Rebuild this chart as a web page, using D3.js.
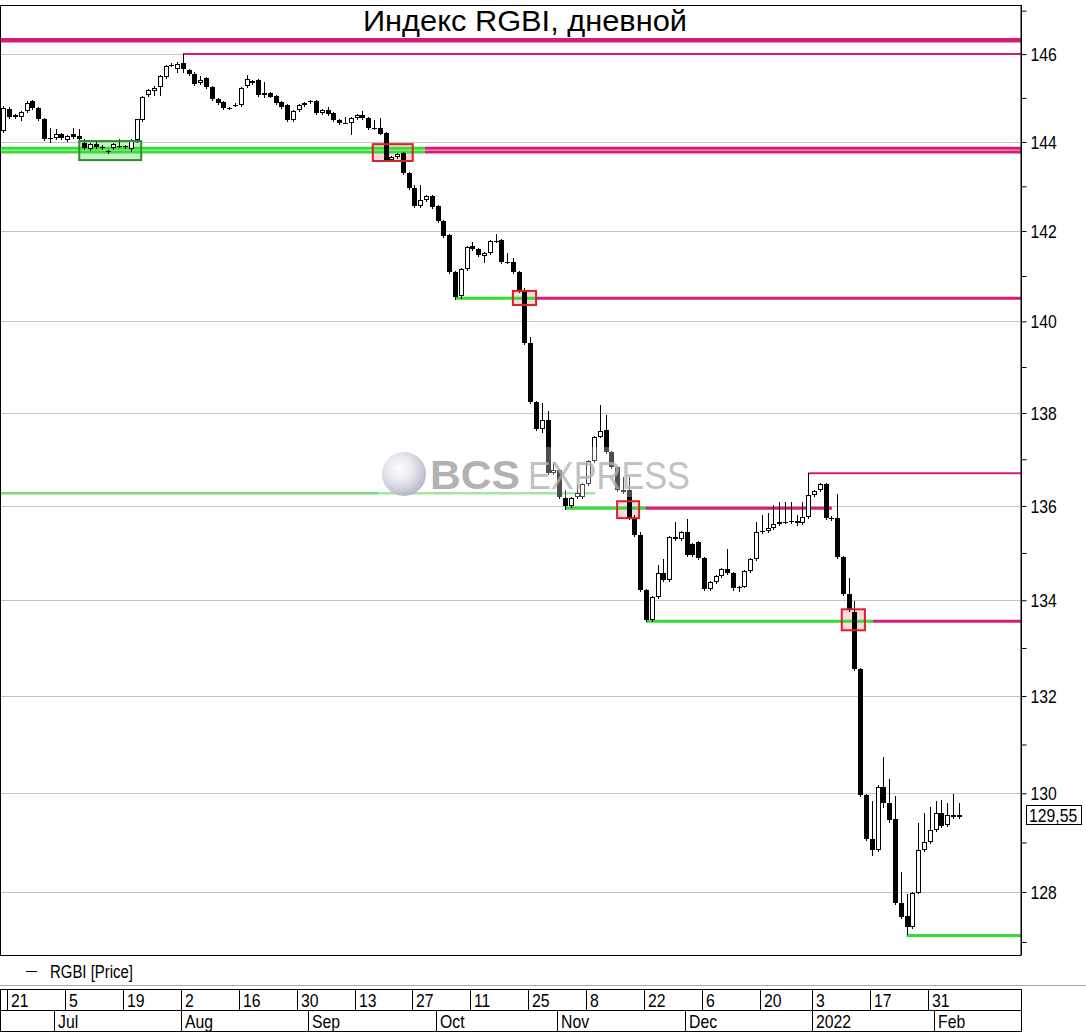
<!DOCTYPE html>
<html><head><meta charset="utf-8">
<script src="https://cdn.jsdelivr.net/npm/d3@7"></script>
<style>
body{margin:0;background:#fff}
svg{display:block}
text{font-family:"Liberation Sans",Arial,sans-serif}
</style></head>
<body><svg id="c" width="1086" height="1034"></svg>
<script>
// ---- data: [date, open, high, low, close] ----
const candles = [
["2021-06-18",144.25,144.82,144.22,144.77],["2021-06-21",144.75,144.80,144.54,144.56],["2021-06-22",144.61,144.63,144.54,144.56],
["2021-06-23",144.56,144.70,144.50,144.68],["2021-06-24",144.70,144.93,144.68,144.88],["2021-06-25",144.93,144.95,144.75,144.77],
["2021-06-28",144.77,144.79,144.50,144.52],["2021-06-29",144.52,144.54,144.04,144.06],["2021-06-30",144.09,144.31,144.00,144.06],
["2021-07-01",144.09,144.29,144.07,144.18],["2021-07-02",144.18,144.20,144.07,144.09],["2021-07-05",144.04,144.15,144.02,144.13],
["2021-07-06",144.18,144.31,144.09,144.11],["2021-07-07",144.13,144.29,144.04,144.06],["2021-07-08",143.97,144.06,143.84,143.86],
["2021-07-09",143.84,143.97,143.82,143.95],["2021-07-12",143.95,144.04,143.86,143.88],["2021-07-13",143.88,143.92,143.84,143.87],
["2021-07-14",143.79,143.81,143.76,143.78],["2021-07-15",143.86,143.97,143.84,143.95],["2021-07-16",143.90,144.06,143.88,143.91],
["2021-07-19",143.91,143.93,143.86,143.88],["2021-07-20",143.83,144.06,143.80,144.04],["2021-07-21",144.04,144.53,144.00,144.51],
["2021-07-22",144.50,145.05,144.48,145.03],["2021-07-23",145.07,145.20,145.05,145.18],["2021-07-26",145.16,145.26,145.07,145.23],
["2021-07-27",145.24,145.52,145.07,145.50],["2021-07-28",145.48,145.75,145.46,145.73],["2021-07-29",145.75,145.80,145.72,145.76],
["2021-07-30",145.67,145.82,145.60,145.77],["2021-08-02",145.79,146.00,145.60,145.65],["2021-08-03",145.64,145.66,145.52,145.54],
["2021-08-04",145.54,145.59,145.29,145.31],["2021-08-05",145.33,145.50,145.31,145.41],["2021-08-06",145.46,145.48,145.22,145.24],
["2021-08-09",145.24,145.26,144.95,144.97],["2021-08-10",144.97,144.99,144.86,144.88],["2021-08-11",144.90,144.92,144.74,144.76],
["2021-08-12",144.78,144.80,144.74,144.77],["2021-08-13",144.83,144.88,144.81,144.84],["2021-08-16",144.84,145.24,144.82,145.22],
["2021-08-17",145.26,145.52,145.24,145.42],["2021-08-18",145.33,145.40,145.31,145.38],["2021-08-19",145.41,145.43,145.05,145.07],
["2021-08-20",145.11,145.37,145.03,145.07],["2021-08-23",145.11,145.13,145.01,145.03],["2021-08-24",145.04,145.06,144.86,144.88],
["2021-08-25",144.91,144.93,144.78,144.80],["2021-08-26",144.84,144.86,144.48,144.50],["2021-08-27",144.50,144.72,144.48,144.70],
["2021-08-30",144.72,144.86,144.70,144.84],["2021-08-31",144.84,144.91,144.82,144.89],["2021-09-01",144.91,144.95,144.89,144.92],
["2021-09-02",144.93,144.95,144.63,144.65],["2021-09-03",144.65,144.74,144.63,144.72],["2021-09-06",144.72,144.79,144.61,144.63],
["2021-09-07",144.66,144.68,144.48,144.50],["2021-09-08",144.50,144.52,144.40,144.42],["2021-09-09",144.44,144.57,144.42,144.43],
["2021-09-10",144.42,144.56,144.19,144.54],["2021-09-13",144.54,144.63,144.52,144.61],["2021-09-14",144.61,144.69,144.52,144.54],
["2021-09-15",144.54,144.56,144.29,144.31],["2021-09-16",144.32,144.50,144.29,144.31],["2021-09-17",144.31,144.54,144.17,144.19],
["2021-09-20",144.21,144.23,143.57,143.59],["2021-09-21",143.59,143.68,143.57,143.66],["2021-09-22",143.66,143.75,143.64,143.73],
["2021-09-23",143.75,143.77,143.28,143.30],["2021-09-24",143.30,143.32,142.94,142.96],["2021-09-27",142.96,143.03,142.54,142.56],
["2021-09-28",142.56,143.03,142.54,142.69],["2021-09-29",142.69,142.80,142.67,142.78],["2021-09-30",142.78,142.80,142.51,142.53],
["2021-10-01",142.56,142.58,142.20,142.22],["2021-10-04",142.22,142.24,141.86,141.88],["2021-10-05",141.91,141.93,141.07,141.09],
["2021-10-06",141.09,141.11,140.50,140.54],["2021-10-07",140.56,141.17,140.51,141.15],["2021-10-08",141.15,141.66,141.13,141.64],
["2021-10-11",141.66,141.75,141.58,141.60],["2021-10-12",141.60,141.62,141.44,141.46],["2021-10-13",141.44,141.53,141.31,141.51],
["2021-10-14",141.51,141.79,141.49,141.77],["2021-10-15",141.77,141.93,141.75,141.78],["2021-10-18",141.80,141.82,141.29,141.31],
["2021-10-19",141.32,141.51,141.29,141.31],["2021-10-20",141.31,141.40,141.07,141.09],["2021-10-21",141.09,141.11,140.65,140.67],
["2021-10-22",140.69,140.73,139.50,139.52],["2021-10-25",139.52,139.65,138.21,138.23],["2021-10-26",138.23,138.25,137.63,137.65],
["2021-10-27",137.65,138.21,137.58,137.84],["2021-10-28",137.84,138.04,136.68,136.70],["2021-10-29",136.70,136.94,136.68,136.77],
["2021-11-01",136.77,136.79,136.17,136.19],["2021-11-02",136.17,136.34,135.93,135.99],["2021-11-03",135.99,136.19,135.97,136.17],
["2021-11-04",136.19,136.44,136.17,136.27],["2021-11-05",136.19,136.49,136.17,136.47],["2021-11-08",136.47,136.99,136.45,136.97],
["2021-11-09",136.97,137.51,136.95,137.49],["2021-11-10",137.49,138.17,137.47,137.62],["2021-11-11",137.64,137.95,137.14,137.16],
["2021-11-12",137.16,137.18,136.82,136.84],["2021-11-15",136.84,136.86,136.32,136.34],["2021-11-16",136.29,136.61,136.27,136.34],
["2021-11-17",136.34,136.61,135.72,135.74],["2021-11-18",135.74,135.80,135.36,135.38],["2021-11-19",135.38,135.44,134.19,134.21],
["2021-11-22",134.21,134.23,133.56,133.58],["2021-11-23",133.58,134.08,133.56,134.06],["2021-11-24",134.06,134.75,134.04,134.57],
["2021-11-25",134.57,134.87,134.40,134.42],["2021-11-26",134.42,135.35,134.40,135.33],["2021-11-29",135.33,135.65,135.27,135.29],
["2021-11-30",135.29,135.46,135.27,135.44],["2021-12-01",135.44,135.72,134.93,134.95],["2021-12-02",135.20,135.22,134.93,134.95],
["2021-12-03",135.24,135.26,134.87,134.89],["2021-12-06",134.89,134.91,134.21,134.23],["2021-12-07",134.23,134.40,134.21,134.38],
["2021-12-08",134.38,134.53,134.36,134.51],["2021-12-09",134.51,134.68,134.49,134.66],["2021-12-10",134.66,135.08,134.55,134.57],
["2021-12-13",134.57,134.59,134.21,134.25],["2021-12-14",134.25,134.31,134.20,134.29],["2021-12-15",134.29,134.63,134.27,134.61],
["2021-12-16",134.61,134.89,134.59,134.87],["2021-12-17",134.87,135.65,134.85,135.44],["2021-12-20",135.45,135.80,135.43,135.46],
["2021-12-21",135.46,135.84,135.44,135.52],["2021-12-22",135.52,136.03,135.50,135.61],["2021-12-23",135.61,136.08,135.59,135.65],
["2021-12-24",135.65,136.08,135.63,135.66],["2021-12-27",135.67,136.08,135.63,135.65],["2021-12-28",135.67,135.80,135.60,135.63],
["2021-12-29",135.63,136.08,135.61,135.76],["2021-12-30",135.76,136.70,135.74,136.23],["2022-01-03",136.23,136.33,136.21,136.31],
["2022-01-04",136.34,136.50,136.32,136.46],["2022-01-05",136.46,136.50,135.72,135.74],["2022-01-06",135.74,135.78,135.70,135.73],
["2022-01-07",135.74,136.25,134.89,134.91],["2022-01-10",134.91,134.93,134.11,134.13],["2022-01-11",134.13,134.46,133.77,133.79],
["2022-01-12",133.75,133.98,132.54,132.56],["2022-01-13",132.56,132.58,129.94,129.96],["2022-01-14",129.96,129.98,129.04,129.06],
["2022-01-17",129.06,129.85,128.74,128.84],["2022-01-18",128.84,130.16,128.82,130.12],["2022-01-19",130.12,130.74,129.71,129.81],
["2022-01-20",129.81,130.30,129.41,129.45],["2022-01-21",129.47,129.94,127.75,127.77],["2022-01-24",127.77,128.40,127.47,127.49],
["2022-01-25",127.51,127.95,127.15,127.29],["2022-01-26",127.29,128.00,127.27,127.99],["2022-01-27",127.99,129.39,127.97,128.84],
["2022-01-28",128.84,129.59,128.82,129.00],["2022-01-31",129.00,129.71,128.98,129.25],["2022-02-01",129.25,129.85,129.23,129.59],
["2022-02-02",129.59,129.87,129.31,129.33],["2022-02-03",129.35,129.81,129.33,129.55],["2022-02-04",129.55,129.98,129.49,129.51],
["2022-02-07",129.51,129.81,129.49,129.55]
];
const dates = candles.map(d => d[0]);

const title = "Индекс RGBI, дневной";
const legendLabel = "RGBI [Price]";
const yTickValues = [127,128,129,130,131,132,133,134,135,136,137,138,139,140,141,142,143,144,145,146,147];
const yTickLabels = {128:"128",130:"130",132:"132",134:"134",136:"136",138:"138",140:"140",142:"142",144:"144",146:"146"};
const dayTicks = ["2021-06-21","2021-07-05","2021-07-19","2021-08-02","2021-08-16","2021-08-30","2021-09-13","2021-09-27",
  "2021-10-11","2021-10-25","2021-11-08","2021-11-22","2021-12-06","2021-12-20","2022-01-03","2022-01-17","2022-01-31"];
const dayLabels = ["21","5","19","2","16","30","13","27","11","25","8","22","6","20","3","17","31"];
const monthTicks = ["2021-07-01","2021-08-02","2021-09-01","2021-10-01","2021-11-01","2021-12-01","2022-01-03","2022-02-01"];
const monthLabels = ["Jul","Aug","Sep","Oct","Nov","Dec","2022","Feb"];

// level lines: [price, fromIndex (null = left edge), toIndex (null = right edge), kind]
const levelLines = [
  [146.32, null, null, "resThick"],
  [146.00, 31, null, "resThin"],
  [136.27, null, 102.2, "supLight"],
  [143.86, null, 72.8, "sup"], [143.77, null, 72.8, "sup"],
  [143.86, 72.8, null, "res"], [143.77, 72.8, null, "res"],
  [140.51, 78, 92.1, "sup"], [140.51, 92.1, null, "res"],
  [135.95, 97, 110.9, "sup"], [135.95, 110.9, 143.1, "res"],
  [136.70, 139, null, "resThin"],
  [133.56, 111, 150.2, "sup"], [133.56, 150.2, null, "res"],
  [127.13, 156, null, "sup"]
];
// boxes: [fromIndex, toIndex, highPrice, lowPrice, kind]
const boxes = [
  [13.1, 23.8, 144.02, 143.59, "green"],
  [63.8, 70.7, 143.95, 143.57, "red"],
  [88.0, 92.0, 140.67, 140.36, "red"],
  [106.0, 109.8, 136.10, 135.74, "red"],
  [144.8, 148.8, 133.81, 133.37, "red"]
];

// ---- layout ----
const W = 1086, H = 1034;
const plot = {l:0, r:1021, t:5, b:955};
const svg = d3.select("#c");

const x = d3.scaleBand().domain(dates).range([0.1, 962]).paddingInner(0.14).paddingOuter(0.14);
const y = d3.scaleLog().domain([126.74, 147.13]).range([plot.b, plot.t]);
const c0 = x(dates[0]) + x.bandwidth()/2;
const fx = i => c0 + i * x.step();
const cx = d => x(d) + x.bandwidth()/2;
const clampX = v => Math.max(plot.l, Math.min(plot.r, v));

const MAG = "#d81b78", GRN = "#35dc35";

// gridlines
svg.append("g").selectAll("line").data(Object.keys(yTickLabels).map(Number)).join("line")
  .attr("x1", plot.l).attr("x2", plot.r)
  .attr("y1", d => Math.round(y(d)) + 0.5).attr("y2", d => Math.round(y(d)) + 0.5)
  .attr("stroke", "#c4c4c4").attr("stroke-width", 1);

// boxes fill (under candles)
svg.append("g").selectAll("rect").data(boxes).join("rect")
  .attr("x", d => fx(d[0])).attr("width", d => fx(d[1]) - fx(d[0]))
  .attr("y", d => y(d[2])).attr("height", d => y(d[3]) - y(d[2]))
  .attr("fill", d => d[4] === "green" ? "rgba(150,230,150,0.55)" : "rgba(255,170,175,0.45)")
  .attr("stroke", "none");

// level lines
const styleOf = {
  resThick: {c: MAG, w: 4.5, o: 1},
  resThin: {c: MAG, w: 2, o: 1},
  res: {c: MAG, w: 3, o: 1},
  sup: {c: GRN, w: 3, o: 1},
  supLight: {c: "#5fd85f", w: 2.5, o: 0.85}
};
svg.append("g").selectAll("line").data(levelLines).join("line")
  .attr("x1", d => d[1] === null ? plot.l : clampX(fx(d[1])))
  .attr("x2", d => d[2] === null ? plot.r : clampX(fx(d[2])))
  .attr("y1", d => y(d[0])).attr("y2", d => y(d[0]))
  .attr("stroke", d => styleOf[d[3]].c).attr("stroke-width", d => styleOf[d[3]].w)
  .attr("stroke-opacity", d => styleOf[d[3]].o);

// candles
const gC = svg.append("g");
candles.forEach(d => {
  const [dt, o, h, l, c] = d;
  const px = Math.round(cx(dt));
  gC.append("line").attr("x1", px + 0.5).attr("x2", px + 0.5)
    .attr("y1", Math.round(y(h))).attr("y2", Math.round(y(l)) + 1)
    .attr("stroke", "#000").attr("stroke-width", 1);
  const top = Math.round(y(Math.max(o, c))), bot = Math.round(y(Math.min(o, c)));
  if (c < o) {
    gC.append("rect").attr("x", px - 2).attr("width", 5)
      .attr("y", top).attr("height", Math.max(1, bot - top)).attr("fill", "#000");
  } else if (bot - top < 2) {
    gC.append("line").attr("x1", px - 2).attr("x2", px + 3)
      .attr("y1", top + 0.5).attr("y2", top + 0.5).attr("stroke", "#000");
  } else {
    gC.append("rect").attr("x", px - 1.5).attr("width", 4)
      .attr("y", top + 0.5).attr("height", bot - top - 1)
      .attr("fill", "#fff").attr("stroke", "#000").attr("stroke-width", 1);
  }
});

// box outlines
svg.append("g").selectAll("rect").data(boxes).join("rect")
  .attr("x", d => fx(d[0])).attr("width", d => fx(d[1]) - fx(d[0]))
  .attr("y", d => y(d[2])).attr("height", d => y(d[3]) - y(d[2]))
  .attr("fill", "none")
  .attr("stroke", d => d[4] === "green" ? "#2f8f2f" : "#d4232a").attr("stroke-width", 2);

// watermark
const defs = svg.append("defs");
const rg = defs.append("radialGradient").attr("id", "wm").attr("cx", "40%").attr("cy", "38%").attr("r", "62%");
rg.append("stop").attr("offset", "0%").attr("stop-color", "#ffffff");
rg.append("stop").attr("offset", "50%").attr("stop-color", "#e4e4ec");
rg.append("stop").attr("offset", "100%").attr("stop-color", "#b4b4c6");
const gW = svg.append("g");
gW.append("rect").attr("x", 378).attr("y", 447).attr("width", 314).attr("height", 50)
  .attr("fill", "#fff").attr("opacity", 0.3);
gW.append("circle").attr("cx", 404).attr("cy", 474).attr("r", 22).attr("fill", "url(#wm)").attr("opacity", 0.9);
gW.append("text").attr("x", 430).attr("y", 489)
  .attr("font-weight", "bold").attr("font-size", 41).attr("fill", "#a4a4a4").attr("fill-opacity", 0.85)
  .attr("textLength", 90).attr("lengthAdjust", "spacingAndGlyphs").text("BCS");
gW.append("text").attr("x", 528).attr("y", 489)
  .attr("font-size", 39).attr("fill", "#b2b2b2").attr("fill-opacity", 0.8)
  .attr("textLength", 162).attr("lengthAdjust", "spacingAndGlyphs").text("EXPRESS");

// frame
svg.append("rect").attr("x", 0.5).attr("y", plot.t + 0.5).attr("width", plot.r - 0.5).attr("height", plot.b - plot.t)
  .attr("fill", "none").attr("stroke", "#000");

// title
svg.append("text").attr("x", 525).attr("y", 31).attr("text-anchor", "middle")
  .attr("font-size", 29).attr("fill", "#000")
  .attr("textLength", 324).attr("lengthAdjust", "spacingAndGlyphs").text(title);

// right axis
const yAxis = d3.axisRight(y).tickValues(yTickValues).tickSize(5).tickSizeOuter(0).tickPadding(4)
  .tickFormat(d => yTickLabels[d] || "");
const gA = svg.append("g").attr("transform", `translate(${plot.r + 0.5},0)`).call(yAxis);
gA.select(".domain").attr("d", `M0,${plot.t}V${plot.b}`).attr("stroke", "#000");
gA.selectAll("text").attr("font-size", 19).attr("fill", "#000")
  .attr("font-family", "\"Liberation Sans\",Arial,sans-serif").classed("narrow", true);

// last price label
const last = candles[candles.length - 1][4];
const ly = y(last);
svg.append("rect").attr("x", 1026.5).attr("y", Math.round(ly) - 9.5).attr("width", 55).attr("height", 19)
  .attr("fill", "#fff").attr("stroke", "#000");
svg.append("text").attr("class", "narrow").attr("x", 1029).attr("y", Math.round(ly) + 7)
  .attr("font-size", 19).text(d3.format(".2f")(last).replace(".", ","));

// legend
svg.append("line").attr("x1", 26).attr("x2", 37).attr("y1", 971.5).attr("y2", 971.5).attr("stroke", "#000");
svg.append("text").attr("class", "narrow").attr("x", 50).attr("y", 978).attr("font-size", 18).text(legendLabel);

// time axis
const tA = svg.append("g");
tA.append("line").attr("x1", 0).attr("x2", W).attr("y1", 985.5).attr("y2", 985.5).attr("stroke", "#a8a8a8");
[989.5, 1010.5, 1031.5].forEach(yy => tA.append("line").attr("x1", 0).attr("x2", plot.r + 1)
  .attr("y1", yy).attr("y2", yy).attr("stroke", "#000"));
[0.5, plot.r + 0.5].forEach(xx => tA.append("line").attr("x1", xx).attr("x2", xx)
  .attr("y1", 989.5).attr("y2", 1031.5).attr("stroke", "#000"));
tA.selectAll(".dt").data(dayTicks).join("line").attr("class", "dt")
  .attr("x1", d => Math.round(cx(d)) - 1.5).attr("x2", d => Math.round(cx(d)) - 1.5)
  .attr("y1", 989.5).attr("y2", 1010.5).attr("stroke", "#000");
tA.selectAll(".dl").data(dayTicks).join("text").attr("class", "dl narrow")
  .attr("x", d => Math.round(cx(d)) + 2).attr("y", 1007).attr("font-size", 19)
  .text((d, i) => dayLabels[i]);
tA.selectAll(".mt").data(monthTicks).join("line").attr("class", "mt")
  .attr("x1", d => Math.round(cx(d)) - 1.5).attr("x2", d => Math.round(cx(d)) - 1.5)
  .attr("y1", 1010.5).attr("y2", 1031.5).attr("stroke", "#000");
tA.selectAll(".ml").data(monthTicks).join("text").attr("class", "ml narrow")
  .attr("x", d => Math.round(cx(d)) + 2).attr("y", 1028).attr("font-size", 19)
  .text((d, i) => monthLabels[i]);

// condensed look (Arial Narrow style) for axis/legend text
svg.selectAll("text.narrow").each(function() {
  const len = this.getComputedTextLength();
  if (len > 0) d3.select(this).attr("textLength", len * 0.83).attr("lengthAdjust", "spacingAndGlyphs");
});
</script>
</body></html>
